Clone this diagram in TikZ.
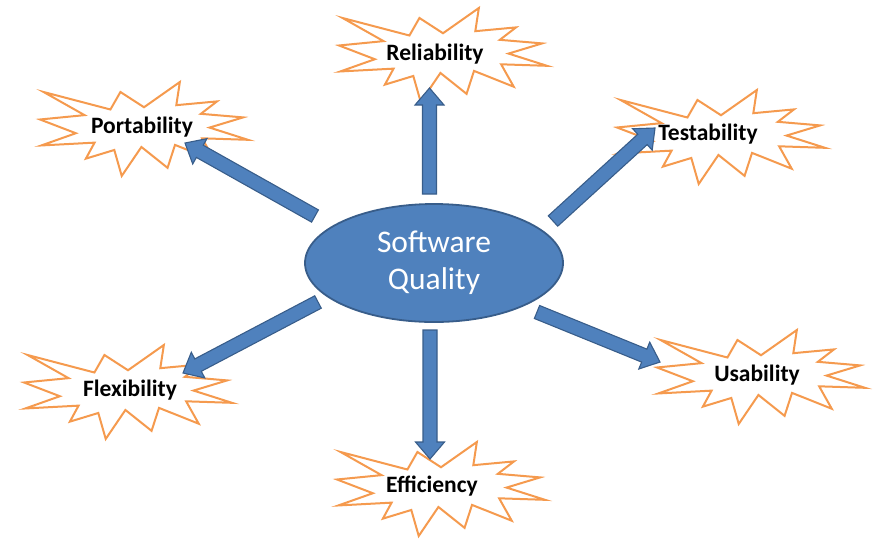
\documentclass[tikz,border=0pt]{standalone}
\usepackage{fontspec}
\setmainfont{Carlito}
\usetikzlibrary{calc,shapes.geometric}
\definecolor{qblue}{HTML}{4F81BD}
\definecolor{qedge}{HTML}{385D8A}
\definecolor{qorange}{HTML}{F59A4E}
\tikzset{
  burst/.style={draw=qorange, line width=2pt, fill=white, line join=miter},
  burstlabel/.style={font=\bfseries\fontsize{23.5}{27}\selectfont, text=black, inner sep=0pt},
  barrow/.style={fill=qblue, draw=qedge, line width=1.1pt, line join=miter},
  core/.style={ellipse, fill=qblue, draw=qedge, line width=1.8pt, minimum width=258pt, minimum height=118pt, inner sep=0pt, align=center, text=white, font=\fontsize{31.5}{37}\selectfont}
}
\newcommand\burstshape[2]{%
  \draw[burst, shift={(#1,#2)}, xscale=0.963, yscale=0.435]
  (108,58) -- (145.22,0) -- (141.55,53.25) -- (183.80,44.57) -- (167.02,73.15) -- (210.97,81.37) -- (176.07,104.75) -- (216,132.90) -- (168.37,129.42) -- (181.45,180.95) -- (140.20,144.57) -- (132.47,197.37) -- (105.32,149.35) -- (84.85,216) -- (77.15,156.27) -- (47.62,176.17) -- (56.67,139.37) -- (1.35,145.87) -- (37.22,117.75) -- (0,86.15) -- (46.27,76.17) -- (3.70,22.95) -- (73.12,63.20) -- (83.52,22.95) -- cycle;}
\newcommand\blockarrow[2]{%
  \coordinate (ba-h) at ($(#2)!17pt!(#1)$);
  \draw[barrow] ($(#1)!7pt!90:(#2)$) -- ($(ba-h)!7pt!90:(#2)$) -- ($(ba-h)!14.5pt!90:(#2)$) -- (#2) -- ($(ba-h)!14.5pt!-90:(#2)$) -- ($(ba-h)!7pt!-90:(#2)$) -- ($(#1)!7pt!-90:(#2)$) -- cycle;}
\begin{document}
\begin{tikzpicture}[x=1pt, y=-1pt]
\useasboundingbox (0,0) rectangle (874,542);
% starbursts
\burstshape{339}{8}
\burstshape{40}{82}
\burstshape{617}{90}
\burstshape{24}{345}
\burstshape{657}{330}
\burstshape{337}{442}
\node[burstlabel] (rel) at (435,54) {Reliability};
\node[burstlabel] (por) at (142,127) {Portability};
\node[burstlabel] (tes) at (708,134) {Testability};
\node[burstlabel] (fle) at (130,390) {Flexibility};
\node[burstlabel] (usa) at (757,375) {Usability};
\node[burstlabel] (eff) at (432,486) {Efficiency};
% centre
\node[core] (sq) at (434,263) {Software\\Quality};
% arrow ends
\coordinate (t-rel) at (429.5,194);
\coordinate (h-rel) at (429.5,88);
\coordinate (t-eff) at (430,330);
\coordinate (h-eff) at (430,459);
\coordinate (t-por) at (315,216);
\coordinate (h-por) at (185,143);
\coordinate (t-tes) at (553,221);
\coordinate (h-tes) at (655,128);
\coordinate (t-fle) at (318,302);
\coordinate (h-fle) at (183,373);
\coordinate (t-usa) at (537,312);
\coordinate (h-usa) at (660,362);
\blockarrow{t-rel}{h-rel}
\blockarrow{t-eff}{h-eff}
\blockarrow{t-por}{h-por}
\blockarrow{t-tes}{h-tes}
\blockarrow{t-fle}{h-fle}
\blockarrow{t-usa}{h-usa}
\end{tikzpicture}
\end{document}
